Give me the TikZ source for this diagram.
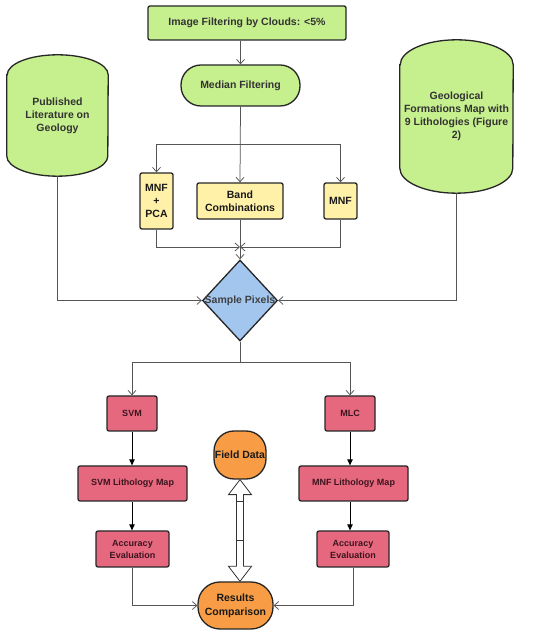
\documentclass[tikz,border=0pt]{standalone}
\usepackage{fontspec}
\setmainfont{Liberation Sans}
\usetikzlibrary{shapes.geometric,arrows.meta,calc,backgrounds}
\definecolor{cgreen}{HTML}{C6EF8E}
\definecolor{cyellow}{HTML}{FFF1A8}
\definecolor{cblue}{HTML}{A3C6EF}
\definecolor{cpink}{HTML}{E6687F}
\definecolor{corange}{HTML}{F89D45}
\definecolor{cline}{HTML}{555555}
\tikzset{
  box/.style={draw=black!85, line width=1.3pt, rounded corners=2pt, align=center, inner sep=0pt,
    font=\bfseries\fontsize{10.5}{13}\selectfont, text=black!80},
  gbox/.style={box, fill=cgreen},
  ybox/.style={box, fill=cyellow, text=black!90},
  pbox/.style={box, fill=cpink, text={rgb,255:red,60;green,20;blue,30}, font=\bfseries\fontsize{9}{12}\selectfont},
  obox/.style={box, fill=corange, text=black!90},
  cyltext/.style={align=center, inner sep=0pt, font=\bfseries\fontsize{10.5}{13}\selectfont, text=black!80},
  cylout/.style={draw=black!85, line width=1.3pt, fill=cgreen},
  conn/.style={draw=cline, line width=0.75pt},
  openarr/.style={conn, -{Straight Barb[length=4.5pt,width=8pt]}},
  filarr/.style={draw=black, line width=1pt, -{Triangle[length=6pt,width=5.5pt]}},
  hollow/.style={draw=black!80, line width=0.8pt, fill=white, line join=miter}
}
\begin{document}
\begin{tikzpicture}[x=1pt,y=1pt]
\useasboundingbox (0,0) rectangle (550,637);

% top
\node[gbox, minimum width=198, minimum height=34] (top) at (247,614) {Image Filtering by Clouds: <5\%};
\node[gbox, rounded corners=20pt, minimum width=119, minimum height=41] (med) at (240.5,551.5) {Median Filtering};

% cylinders
\node[cyltext, minimum width=101, minimum height=121] (lit) at (57.5,521.5) {Published\\Literature on\\Geology};
\node[cyltext, minimum width=113, minimum height=153] (geo) at (456.5,520.5) {Geological\\Formations Map with\\9 Lithologies (Figure\\2)};
\begin{scope}[on background layer]
\fill[white] (0,0) rectangle (550,637);
\draw[cylout] ($(lit.north west)+(0,-20)$) -- ($(lit.south west)+(0,20)$)
  arc[start angle=180,end angle=360,x radius=50.5,y radius=20]
  -- ($(lit.north east)+(0,-20)$)
  arc[start angle=0,end angle=180,x radius=50.5,y radius=20] -- cycle;
\draw[cylout] ($(geo.north west)+(0,-25)$) -- ($(geo.south west)+(0,25)$)
  arc[start angle=180,end angle=360,x radius=56.5,y radius=25]
  -- ($(geo.north east)+(0,-25)$)
  arc[start angle=0,end angle=180,x radius=56.5,y radius=25] -- cycle;
\end{scope}

% yellow
\node[ybox, minimum width=33, minimum height=56] (pca) at (156.5,436) {MNF\\+\\PCA};
\node[ybox, minimum width=86, minimum height=36] (band) at (240,436) {Band\\Combinations};
\node[ybox, minimum width=33, minimum height=36] (mnf) at (340.5,436) {MNF};

% diamond
\node[diamond, draw=black!85, line width=1.3pt, fill=cblue, minimum width=75, minimum height=81, inner sep=0pt] (sp) at (240,336.5) {};
\node[cyltext, text=black!75] (sptext) at (sp) {Sample Pixels};

% pink
\node[pbox, minimum width=50, minimum height=35] (svm) at (132,223.5) {SVM};
\node[pbox, minimum width=50, minimum height=35] (mlc) at (350,223.5) {MLC};
\node[pbox, minimum width=109, minimum height=35] (svmmap) at (132.5,153.5) {SVM Lithology Map};
\node[pbox, minimum width=109, minimum height=35] (mnfmap) at (353.5,153.5) {MNF Lithology Map};
\node[pbox, minimum width=73, minimum height=36] (acc1) at (132.5,88) {Accuracy\\Evaluation};
\node[pbox, minimum width=72, minimum height=36] (acc2) at (353,88) {Accuracy\\Evaluation};

% orange
\node[obox, rounded corners=20pt, minimum width=52, minimum height=48] (fd) at (240,182) {Field Data};
\node[obox, rounded corners=22pt, minimum width=75, minimum height=47, font=\bfseries\fontsize{10.5}{14}\selectfont] (rc) at (235.5,31.5) {Results\\Comparison};

% connectors top part
\draw[openarr] (med.north |- top.south) -- (med.north);
\coordinate (br1) at (240,493);
\draw[openarr] (med.south) -- (band.north);
\draw[openarr] (br1) -| (pca.north);
\draw[openarr] (br1) -| (mnf.north);
\coordinate (mg) at (240,390);
\draw[openarr] (pca.south) |- (mg);
\draw[openarr] (mnf.south) |- (mg);
\draw[openarr] (band.south) -- (sp.north);
\draw[openarr] (lit.south) |- (sp.west);
\draw[openarr] (geo.south) |- (sp.east);

% lower part
\coordinate (br2) at (240,275);
\draw[conn] (sp.south) -- (br2);
\draw[openarr] (br2) -| (svm.north);
\draw[openarr] (br2) -| (mlc.north);
\draw[filarr] (svm.south) -- (svm.south |- svmmap.north);
\draw[filarr] (svm.south |- svmmap.south) -- (svm.south |- acc1.north);
\draw[filarr] (mlc.south) -- (mlc.south |- mnfmap.north);
\draw[filarr] (mlc.south |- mnfmap.south) -- (mlc.south |- acc2.north);
\draw[openarr] (acc1.south) |- (rc.west);
\draw[openarr] (acc2.south) |- (rc.east);

% hollow double arrow
\coordinate (dt) at (fd.south);
\coordinate (db) at (fd.south |- rc.north);
\draw[hollow] (dt) -- ++(11.5,-15) -- ++(-8,0) -- ($(db)+(3.5,15)$) -- ++(8,0) -- (db)
  -- ++(-11.5,15) -- ++(8,0) -- ($(dt)+(-3.5,-15)$) -- ++(-8,0) -- cycle;
\draw[draw=black!80, line width=0.8pt] ($(dt)+(-3.5,-22)$) -- ++(7,0);
\draw[draw=black!80, line width=0.8pt] ($(dt)+(-3.5,-61)$) -- ++(7,0);
\end{tikzpicture}
\end{document}
